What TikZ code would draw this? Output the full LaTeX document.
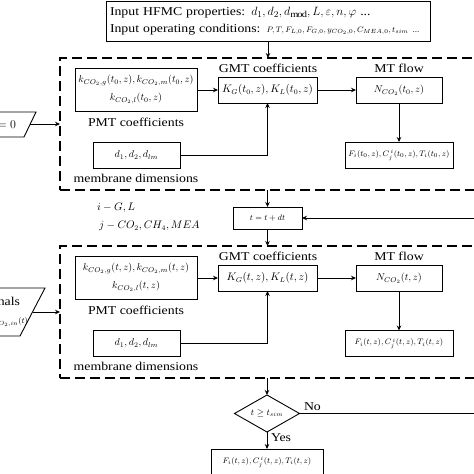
\documentclass[tikz,border=0pt]{standalone}
\usepackage{fontspec}
\setmainfont{Liberation Serif}[FakeStretch=1.15]
\usetikzlibrary{arrows.meta,shapes.geometric}
\begin{document}
\begin{tikzpicture}[x=1pt,y=-1pt,
  every node/.style={inner sep=0pt,outer sep=0pt},
  box/.style={draw,line width=0.9pt,align=center,font=\fontsize{10}{12}\selectfont},
  lab/.style={font=\fontsize{12}{14}\selectfont},
  mlab/.style={font=\fontsize{10.5}{12}\selectfont},
  dbox/.style={draw,dashed,line width=1.1pt,dash pattern=on 10pt off 5pt},
  arr/.style={line width=0.9pt,-{Stealth[length=5pt,width=4.5pt]}},
  ln/.style={line width=0.9pt}]
\useasboundingbox (0,0) rectangle (474,474);
\clip (0,0) rectangle (474,474);
\fill[white] (0,0) rectangle (474,474);
% top box
\node[draw,line width=0.9pt,minimum width=324pt,minimum height=40pt,text width=316pt,inner xsep=4pt,align=left,font=\fontsize{12}{17}\selectfont] (top) at (268,21)
 {Input HFMC properties: {\fontsize{13}{17}\selectfont$d_1, d_2, d_{\rm mod}, L, \varepsilon, n, \varphi$} ...\\
  Input operating conditions: {\fontsize{8}{12}\selectfont $P, T, F_{L,0}, F_{G,0}, y_{CO_2,0}, C_{MEA,0}, t_{sim}$ ...}};
% dashed box 1
\node[dbox,minimum width=440pt,minimum height=132pt] (d1) at (280,124) {};
\node[box,minimum width=122pt,minimum height=43pt,font=\fontsize{10}{18}\selectfont] (pmt1) at (136,89.5)
 {$k_{CO_2,g}(t_0,z), k_{CO_2,m}(t_0,z)$\\ $k_{CO_2,l}(t_0,z)$};
\node[lab] (pmtl1) at (136,122) {PMT coefficients};
\node[box,minimum width=87pt,minimum height=26pt] (mem1) at (136.5,155) {$d_1, d_2, d_{lm}$};
\node[lab] (meml1) at (136,178) {membrane dimensions};
\node[box,minimum width=99pt,minimum height=26pt,font=\fontsize{10.5}{12}\selectfont] (gmt1) at (267.5,90) {$K_G(t_0,z), K_L(t_0,z)$};
\node[lab] (gmtl1) at (268,68) {GMT coefficients};
\node[box,minimum width=86pt,minimum height=26pt] (mt1) at (399,90) {$N_{CO_2}(t_0,z)$};
\node[lab] (mtl1) at (399,68) {MT flow};
\node[box,minimum width=108pt,minimum height=26pt,font=\fontsize{8}{10}\selectfont] (f1) at (399,155) {$F_i(t_0,z), C^{\,i}_j(t_0,z), T_i(t_0,z)$};
% left parallelogram 1
\draw[ln] (-60,112) -- (36,112) -- (24,137) -- (-72,137) -- cycle;
\coordinate (p1) at (30,124);
\node[lab,anchor=east] (p1t) at (16,125) {$t=0$};
% t = t + dt
\node[box,minimum width=69pt,minimum height=22pt,font=\fontsize{8.5}{10}\selectfont] (tdt) at (267.5,218) {$t=t+dt$};
\node[mlab,anchor=west] (il) at (97,208) {$i-G,L$};
\node[mlab,anchor=west] (jl) at (99,226) {$j-CO_2,CH_4,MEA$};
% dashed box 2
\node[dbox,minimum width=440pt,minimum height=132pt] (d2) at (280,312) {};
\node[box,minimum width=122pt,minimum height=43pt,font=\fontsize{10}{18}\selectfont] (pmt2) at (136,277.5)
 {$k_{CO_2,g}(t,z), k_{CO_2,m}(t,z)$\\ $k_{CO_2,l}(t,z)$};
\node[lab] (pmtl2) at (136,310) {PMT coefficients};
\node[box,minimum width=87pt,minimum height=26pt] (mem2) at (136.5,343) {$d_1, d_2, d_{lm}$};
\node[lab] (meml2) at (136,366) {membrane dimensions};
\node[box,minimum width=99pt,minimum height=26pt,font=\fontsize{10.5}{12}\selectfont] (gmt2) at (267.5,278) {$K_G(t,z), K_L(t,z)$};
\node[lab] (gmtl2) at (268,256) {GMT coefficients};
\node[box,minimum width=86pt,minimum height=26pt] (mt2) at (399,278) {$N_{CO_2}(t,z)$};
\node[lab] (mtl2) at (399,256) {MT flow};
\node[box,minimum width=108pt,minimum height=26pt,font=\fontsize{8}{10}\selectfont] (f2) at (399,343.5) {$F_i(t,z), C^{\,i}_j(t,z), T_i(t,z)$};
% left parallelogram 2
\draw[ln] (-60,288) -- (45,288) -- (20,336) -- (-85,336) -- cycle;
\coordinate (p2) at (33,312);
\node[lab,anchor=east] (p2a) at (20,303) {Input signals};
\node[lab,anchor=east,font=\fontsize{8}{10}\selectfont] (p2b) at (28,322) {$y_{CO_2,in}(t)$};
% decision
\node[draw,diamond,ln,minimum width=65pt,minimum height=37pt,aspect=1.76,inner sep=0pt,font=\fontsize{9}{10}\selectfont] (dec) at (267,413.5) {$t\ge t_{sim}$};
\node[lab,anchor=west] (no) at (304,407) {No};
\node[lab,anchor=west] (yes) at (271,438) {Yes};
\node[box,minimum width=112pt,minimum height=26pt,font=\fontsize{8}{10}\selectfont] (f3) at (267,462) {$F_i(t,z), C^{\,i}_j(t,z), T_i(t,z)$};
% connectors
\draw[arr] (top.south) -- (top.south |- d1.north);
\draw[arr] (p1) -- (p1 -| d1.west);
\draw[arr] (pmt1.east |- gmt1.west) -- (gmt1.west);
\draw[arr] (mem1.east) -| (gmt1.south);
\draw[arr] (gmt1.east) -- (mt1.west);
\draw[arr] (mt1.south) -- (f1.north);
\draw[arr] (tdt.north |- d1.south) -- (tdt.north);
\draw[arr] (tdt.south) -- (tdt.south |- d2.north);
\draw[arr] (p2) -- (p2 -| d2.west);
\draw[arr] (pmt2.east |- gmt2.west) -- (gmt2.west);
\draw[arr] (mem2.east) -| (gmt2.south);
\draw[arr] (gmt2.east) -- (mt2.west);
\draw[arr] (mt2.south) -- (f2.north);
\draw[arr] (dec.north |- d2.south) -- (dec.north);
\draw[arr] (dec.south) -- (f3.north);
\coordinate (loopc) at (490,413.5);
\draw[arr] (dec.east) -- (loopc) |- (tdt.east);
\end{tikzpicture}
\end{document}
